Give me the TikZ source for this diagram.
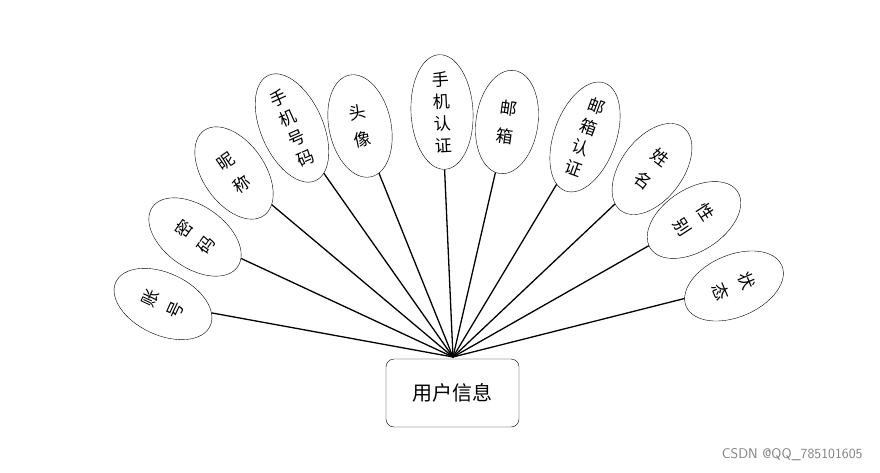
\documentclass[tikz,border=0pt]{standalone}
\usepackage{fontspec}
\setmainfont{Noto Sans CJK SC}
\usetikzlibrary{shapes.geometric}
\begin{document}
\begin{tikzpicture}[x=1pt,y=-1pt,
  attr/.style={draw,ellipse,inner sep=0pt,minimum width=62pt,minimum height=104pt,align=center,font=\fontsize{17}{28}\selectfont},
  attrl/.style={attr,font=\fontsize{17}{22}\selectfont},
  ent/.style={draw,rounded corners=8pt,minimum width=133pt,minimum height=68pt,font=\fontsize{20}{24}\selectfont},
  conn/.style={line width=1.3pt}]
\useasboundingbox (0,0) rectangle (880,473);
\coordinate (hub) at (453,357);
\node[ent] (user) at (452.5,393) {用户信息};
\node[attr,rotate=65] (a1) at (163,304) {账\\号};
\node[attr,rotate=55] (a2) at (195,237) {密\\码};
\node[attr,rotate=35] (a3) at (234,173) {昵\\称};
\node[attrl,rotate=24] (a4) at (292,128) {手\\机\\号\\码};
\node[attr,rotate=12] (a5) at (360,126) {头\\像};
\node[attrl,rotate=3] (a6) at (442,112) {手\\机\\认\\证};
\node[attr,rotate=-8] (a7) at (507,122) {邮\\箱};
\node[attrl,rotate=-20] (a8) at (585,137) {邮\\箱\\认\\证};
\node[attr,rotate=-37] (a9) at (652,169) {姓\\名};
\node[attr,rotate=-57] (a10) at (694,220) {性\\别};
\node[attr,rotate=-67] (a11) at (734,286) {状\\态};
\foreach \i in {1,...,11} \draw[conn] (hub) -- (a\i);
\node[text=gray,font=\fontsize{14}{16}\selectfont\sffamily,anchor=east] (wm) at (866,455) {CSDN @QQ\_785101605};
\end{tikzpicture}
\end{document}
